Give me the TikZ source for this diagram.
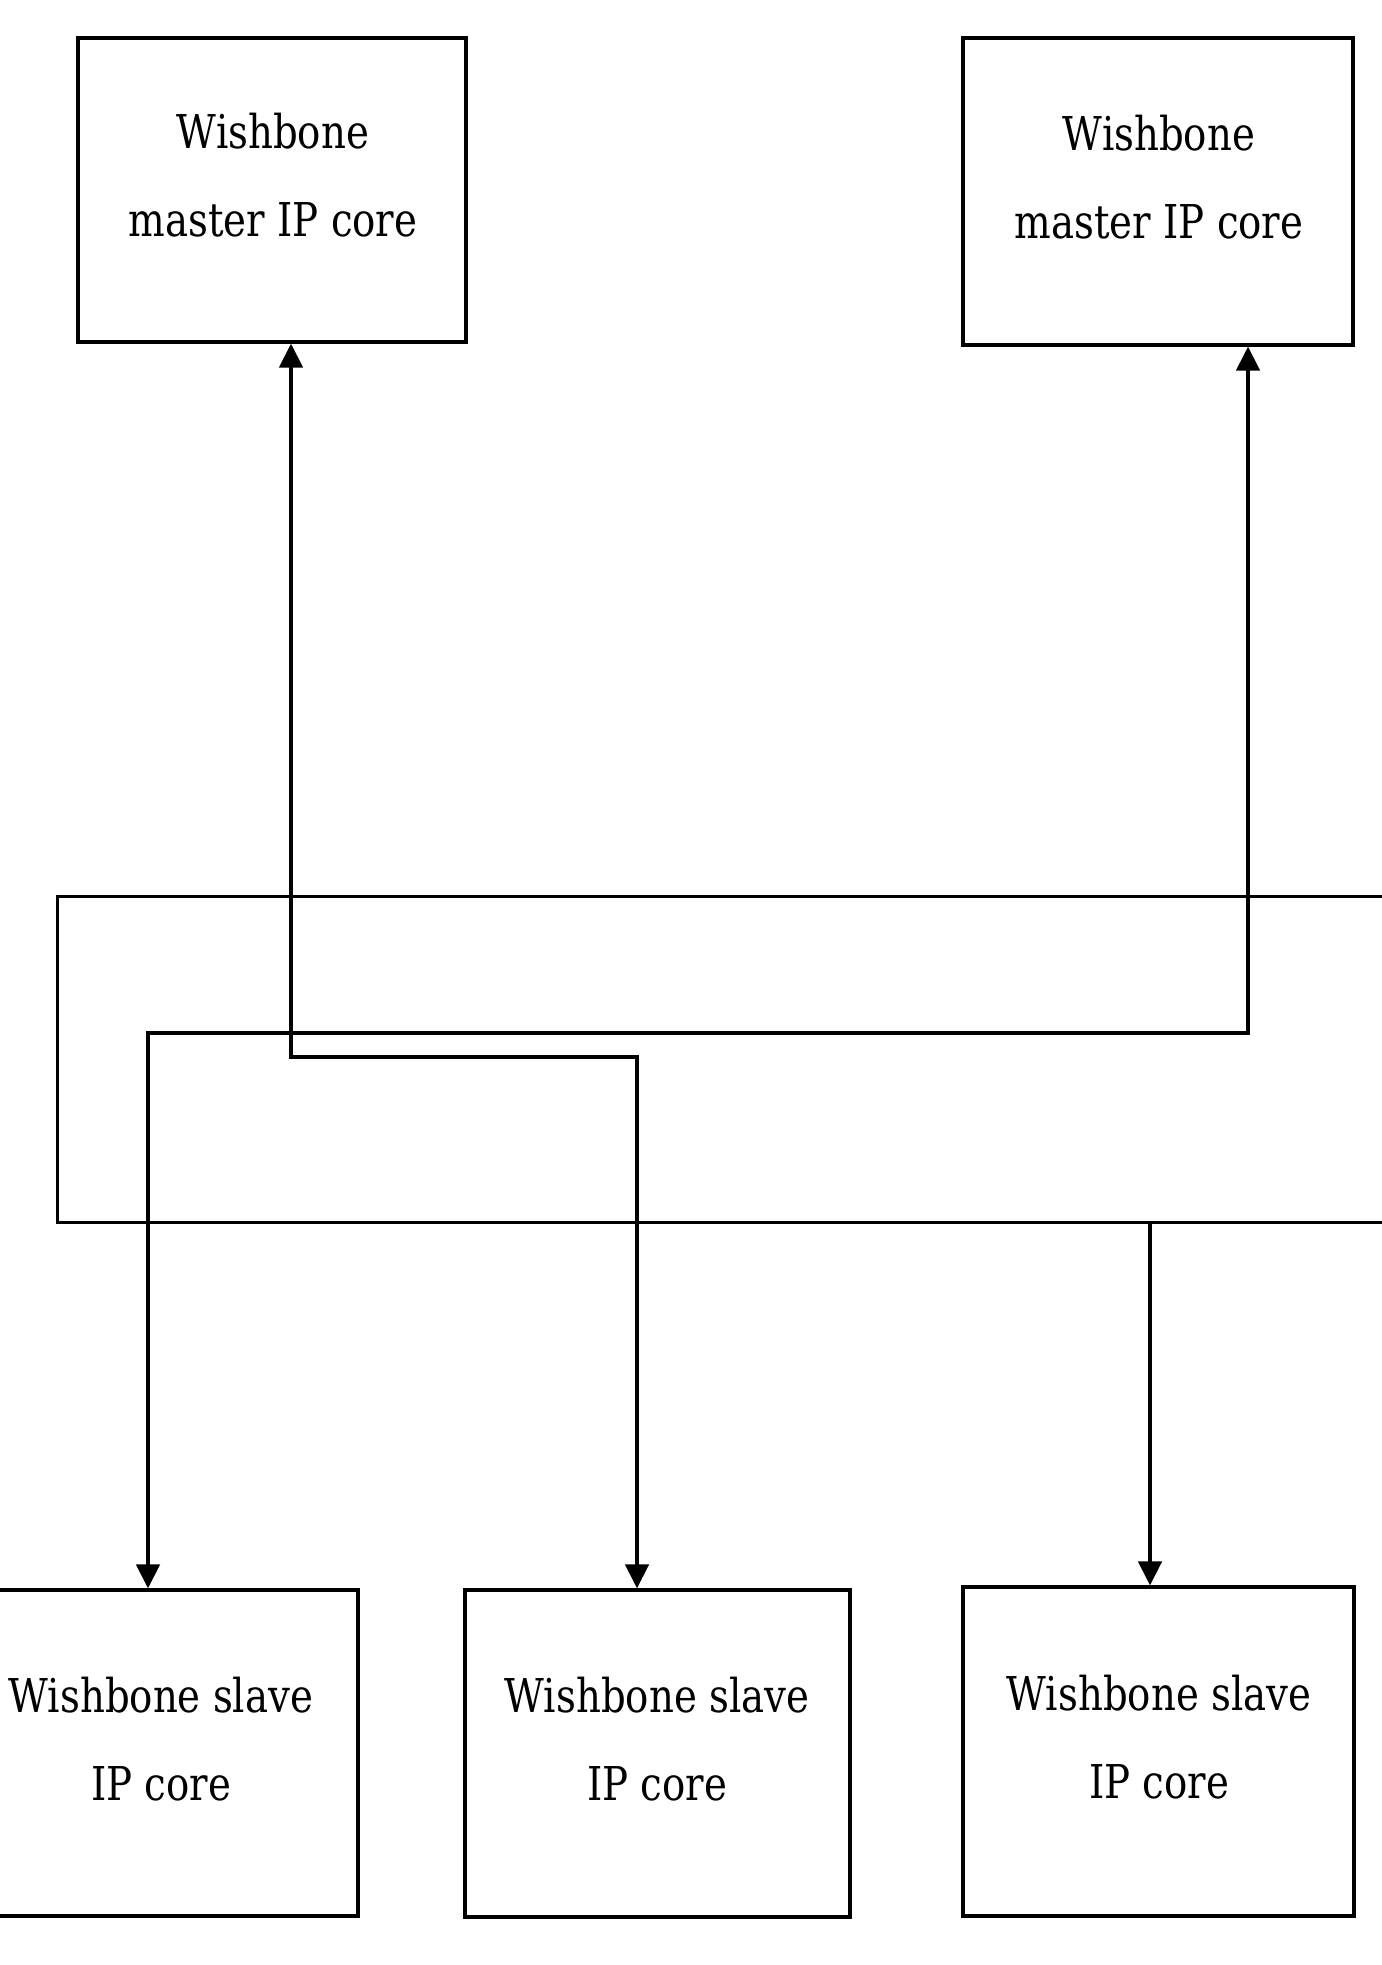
\documentclass[tikz,border=0pt]{standalone}
\usepackage{fontspec}
\setmainfont[FakeStretch=0.83]{DejaVu Serif}
\usetikzlibrary{arrows.meta}
\tikzset{
	core/.style={draw, line width=0.8pt, inner sep=0pt},
	lbl/.style={align=center, font=\fontsize{11.65}{22}\selectfont},
	link/.style={line width=1pt, {Triangle[length=6pt,width=5.8pt]}-{Triangle[length=6pt,width=5.8pt]}},
	down/.style={line width=1pt, -{Triangle[length=6pt,width=5.8pt]}}
}
\begin{document}
\begin{tikzpicture}[x=0.25pt, y=-0.25pt]
	\useasboundingbox (0,0) rectangle (1381,1965);

	\node[core, minimum width=97pt, minimum height=76pt] (m1) at (272,190) {};
	\node[core, minimum width=97.5pt, minimum height=76.75pt] (m2) at (1158,191.5) {};
	\node[core, minimum width=335.75pt, minimum height=81.5pt, line width=0.75pt] (bus) at (728.5,1059) {};
	\node[core, minimum width=98.5pt, minimum height=81.5pt] (s1) at (161,1753) {};
	\node[core, minimum width=96.25pt, minimum height=81.75pt] (s2) at (657.5,1753.5) {};
	\node[core, minimum width=97.75pt, minimum height=82.25pt] (s3) at (1158.5,1751.5) {};

	\node[lbl] (m1t) at (273,175.5) {Wishbone\\master IP core};
	\node[lbl] (m2t) at (1159,177) {Wishbone\\master IP core};
	\node[lbl] (s1t) at (161,1739) {Wishbone slave\\IP core};
	\node[lbl] (s2t) at (657,1739) {Wishbone slave\\IP core};
	\node[lbl] (s3t) at (1159,1737) {Wishbone slave\\IP core};

	\coordinate (j1a) at (291,1057);
	\coordinate (j1b) at (637,1057);
	\coordinate (j2a) at (1248,1033);
	\coordinate (j2b) at (148,1033);
	\coordinate (j3) at (1150,1222);

	\draw[link] (m1.south -| j1a) -- (j1a) -- (j1b) -- (s2.north -| j1b);
	\draw[link] (m2.south -| j2a) -- (j2a) -- (j2b) -- (s1.north -| j2b);
	\draw[down] (bus.south -| j3) -- (s3.north -| j3);
\end{tikzpicture}
\end{document}
